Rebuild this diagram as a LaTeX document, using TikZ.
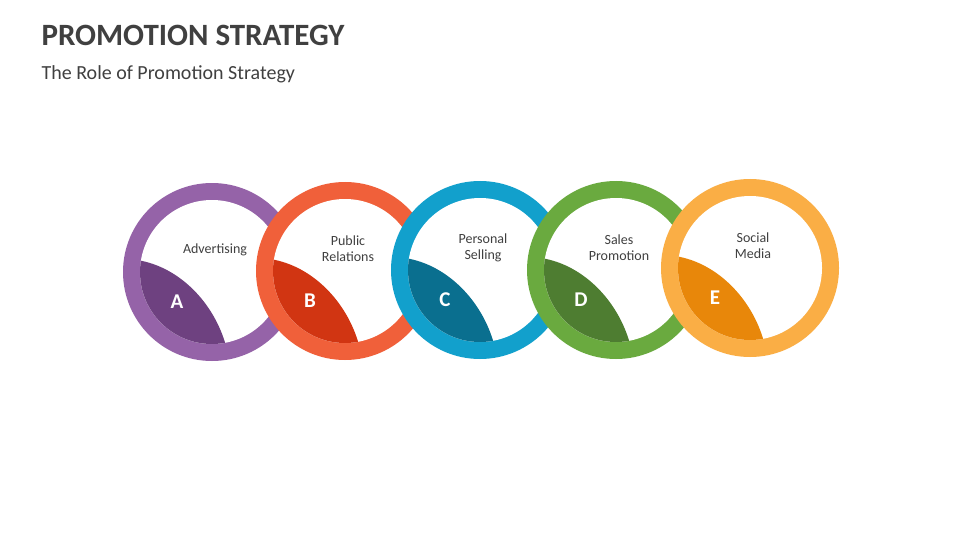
\documentclass[tikz,border=0pt]{standalone}
\usepackage{fontspec}
\setmainfont{Carlito}
\begin{document}
\begin{tikzpicture}[x=1pt,y=-1pt,
  lbl/.style={font=\fontsize{14}{16}\selectfont, text=black!75, align=center},
  let/.style={font=\bfseries\fontsize{21}{24}\selectfont, text=white}]
\useasboundingbox[fill=white] (0,0) rectangle (960,540);
\node[anchor=west, font=\bfseries\fontsize{31}{34}\selectfont, text=black!75] (t) at (38,35) {PROMOTION STRATEGY};
\node[anchor=west, font=\fontsize{20}{22}\selectfont, text=black!75] (s) at (38,74) {The Role of Promotion Strategy};
\definecolor{rA}{HTML}{9563A8}\definecolor{dA}{HTML}{6E4180}
\definecolor{rB}{HTML}{F0603A}\definecolor{dB}{HTML}{D13512}
\definecolor{rC}{HTML}{12A0CC}\definecolor{dC}{HTML}{0A6F8F}
\definecolor{rD}{HTML}{6AAA3F}\definecolor{dD}{HTML}{4E7D31}
\definecolor{rE}{HTML}{FAAE45}\definecolor{dE}{HTML}{E8870A}
\foreach \cx/\cy/\k/\L/\T in {212/272/A/A/Advertising, 345/271/B/B/Public\\Relations, 480/270/C/C/Personal\\Selling, 616/270/D/D/Sales\\Promotion, 750/268/E/E/Social\\Media}{
  \fill[color=r\k] (\cx,\cy) circle (89);
  \fill[white] (\cx,\cy) circle (72);
  \begin{scope}
    \clip (\cx,\cy) circle (72);
    \fill[color=d\k] (\cx-75,\cy-12) .. controls (\cx-30,\cy-5) and (\cx+5,\cy+35) .. (\cx+15,\cy+78) -- (\cx-100,\cy+100) -- cycle;
  \end{scope}
  \node[let] (l\k) at (\cx-35,\cy+30) {\L};
  \node[lbl] (n\k) at (\cx+3,\cy-22) {\T};
}
\end{tikzpicture}
\end{document}
